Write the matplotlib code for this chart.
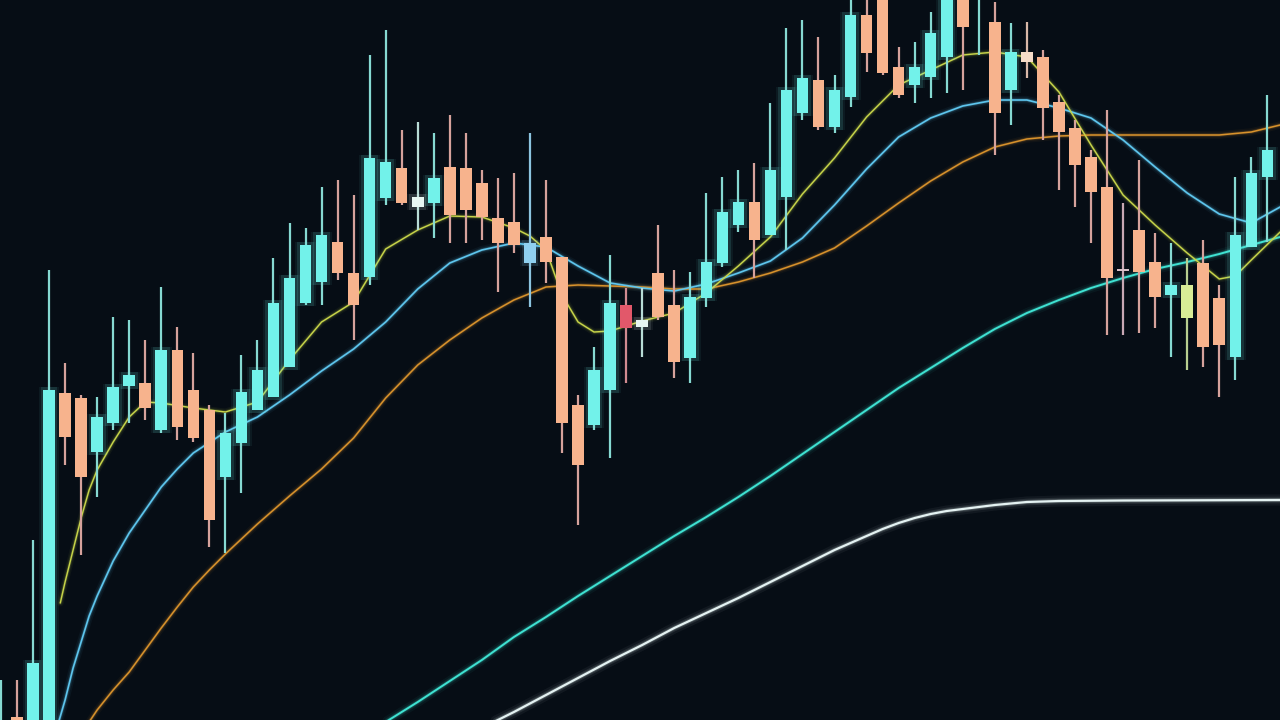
import matplotlib
matplotlib.use("Agg")
import matplotlib.pyplot as plt
import numpy as np

# ---- candle data (price units; index = trading session) ----
opens = [-20, 3, -10, -10, 327, 322, 268, 297, 334, 337, 290, 370, 330, 310, 243, 277, 310, 323, 353, 417,
         438, 478, 447, 443, 522, 552, 513, 517, 553, 552, 537, 502, 498, 457, 483, 463, 315, 295, 330, 415,
         393, 447, 415, 362, 422, 457, 495, 518, 485, 523, 607, 640, 593, 623, 705, 730, 653, 635, 643, 663,
         730, 725, 698, 630, 668, 663, 618, 592, 563, 533, 451, 490, 458, 425, 402, 457, 422, 363, 473, 543]
closes = [-5, -10, 57, 330, 283, 243, 303, 333, 345, 312, 370, 293, 282, 200, 287, 328, 350, 417, 442, 475,
          485, 447, 415, 562, 558, 517, 523, 542, 505, 510, 503, 477, 475, 477, 458, 297, 255, 350, 417, 392,
          400, 403, 358, 423, 458, 508, 518, 480, 550, 630, 642, 593, 630, 705, 667, 647, 625, 653, 687, 725,
          693, 745, 607, 668, 658, 612, 588, 555, 528, 442, 449, 448, 423, 435, 435, 373, 375, 485, 547, 570]
highs = [40, 40, 180, 450, 357, 325, 323, 403, 400, 380, 433, 393, 367, 315, 307, 365, 380, 462, 497, 492,
         533, 540, 525, 665, 690, 590, 598, 587, 605, 587, 550, 542, 547, 587, 540, 463, 325, 373, 465, 432,
         432, 495, 450, 448, 527, 543, 550, 557, 617, 692, 700, 683, 645, 725, 730, 740, 673, 678, 708, 740,
         740, 760, 718, 697, 698, 670, 625, 600, 570, 610, 517, 560, 487, 477, 462, 480, 435, 543, 563, 625]
lows = [-30, -20, -20, -20, 255, 165, 223, 290, 297, 300, 287, 280, 278, 173, 167, 227, 310, 323, 353, 415,
        415, 440, 380, 435, 515, 515, 490, 482, 477, 477, 480, 428, 467, 413, 437, 267, 195, 290, 262, 337,
        363, 400, 342, 337, 413, 453, 488, 442, 485, 470, 600, 590, 587, 613, 648, 645, 622, 617, 622, 627,
        630, 665, 565, 595, 642, 580, 530, 513, 477, 385, 385, 387, 392, 363, 350, 353, 323, 340, 473, 478]
kinds = ["up", "dn", "up", "up", "dn", "dn", "up", "up", "up", "dn", "up", "dn", "dn", "dn", "up", "up", "up", "up", "up", "up",
         "up", "dn", "dn", "up", "up", "dn", "white", "up", "dn", "dn", "dn", "dn", "dn", "blue", "dn", "dn", "dn", "up", "up", "red",
         "white", "dn", "dn", "up", "up", "up", "up", "dn", "up", "up", "up", "dn", "up", "up", "dn", "dn", "dn", "up", "up", "up",
         "dn", "up", "dn", "up", "pale", "dn", "dn", "dn", "dn", "dn", "doji", "dn", "dn", "up", "lime", "dn", "dn", "up", "up", "up"]

# ---- moving-average lines (x = session index, y = price) ----
fast_x = [3.7, 4, 4.5, 5, 5.5, 6, 7, 8, 9, 10, 12, 14, 16, 18, 20, 22, 24, 26, 28, 30, 32, 33, 34, 35, 36, 37, 38,
          40, 42, 44, 46, 48, 50, 52, 54, 56, 58, 60, 62, 64, 66, 68, 70, 72, 74, 76, 77, 78, 79.8]
fast_y = [117, 138, 170, 202, 230, 250, 278, 303, 318, 317, 312, 308, 318, 360, 398, 418, 471, 490, 504, 503, 492,
          484, 470, 425, 398, 388, 389, 399, 407, 427, 454, 483, 526, 562, 603, 635, 650, 665, 668, 663, 628, 575,
          525, 495, 467, 441, 444, 460, 488]
mid_x = [3.6, 4, 4.5, 5, 5.5, 6, 7, 8, 9, 10, 11, 12, 14, 16, 18, 20, 22, 24, 26, 28, 30, 32, 34, 36, 38, 40, 42,
         44, 46, 48, 50, 52, 54, 56, 58, 60, 62, 64, 66, 68, 70, 72, 74, 76, 78, 79.8]
mid_y = [-2, 20, 52, 78, 104, 124, 159, 187, 210, 233, 251, 267, 288, 303, 325, 349, 371, 398, 431, 457, 470, 477,
         473, 454, 437, 432, 429, 436, 447, 459, 482, 515, 551, 583, 602, 614, 620, 620, 612, 602, 580, 553, 527,
         506, 497, 513]
slow_x = [5.5, 6, 7, 8, 9, 10, 11, 12, 13, 14, 16, 18, 20, 22, 24, 26, 28, 30, 32, 34, 36, 38, 40, 42, 44, 46, 48,
          50, 52, 54, 56, 58, 60, 62, 64, 66, 68, 72, 76, 78, 79.8]
slow_y = [-2, 10, 30, 48, 70, 92, 113, 133, 150, 166, 196, 224, 251, 282, 322, 355, 380, 402, 420, 433, 435, 434,
          433, 431, 431, 438, 447, 458, 472, 494, 517, 539, 558, 573, 581, 584, 585, 585, 585, 588, 595]
long_x = [24, 26, 28, 30, 32, 34, 36, 38, 40, 42, 44, 46, 48, 50, 52, 54, 56, 58, 60, 62, 64, 66, 68, 70, 72, 74, 76,
          78, 79.8]
long_y = [-2, 18, 39, 60, 83, 103, 124, 144, 164, 184, 203, 223, 244, 266, 288, 310, 332, 352, 372, 391, 407, 420,
          432, 442, 451, 458, 466, 475, 483]
year_x = [30, 32, 34, 36, 38, 40, 42, 44, 46, 48, 50, 52, 53, 54, 55, 56, 57, 58, 59, 60, 62, 64, 66, 70, 79.8]
year_y = [-8, 8, 25, 42, 59, 75, 92, 107, 122, 138, 154, 170, 177, 184, 191, 197, 202, 206, 209, 211, 215, 218,
          219, 219.5, 220]

BG = "#060d15"
body_col = {"up": "#72f2ea", "dn": "#f7b38d", "red": "#e2586a", "white": "#e8f6f2",
            "blue": "#8fd0f0", "pale": "#f6dcc8", "doji": "#d9c0c8", "lime": "#d8ec96"}
wick_col = {"up": "#86d9d2", "dn": "#d6a29c", "red": "#d08a90", "white": "#b8dcd6",
            "blue": "#8cc4e0", "pale": "#d8b8a8", "doji": "#c8a8b4", "lime": "#b8cf90"}

fig = plt.figure(figsize=(12.8, 7.2), dpi=100, facecolor=BG)
ax = fig.add_axes([0, 0, 1, 1])
ax.set_facecolor(BG)
ax.set_xlim(-0.06, 79.79)
ax.set_ylim(0, 720)
ax.axis("off")

x = np.arange(len(opens))
o = np.array(opens, float)
c = np.array(closes, float)
h = np.array(highs, float)
l = np.array(lows, float)

# MA lines with soft glow
def glow_line(xs, ys, col, lw, z):
    for w, a in [(lw * 5, 0.05), (lw * 3, 0.10), (lw * 1.8, 0.2)]:
        ax.plot(xs, ys, color=col, lw=w, alpha=a, solid_capstyle="round",
                solid_joinstyle="round", zorder=z)
    ax.plot(xs, ys, color=col, lw=lw, solid_capstyle="round", solid_joinstyle="round", zorder=z + 0.1)

glow_line(year_x, year_y, "#e4f2f2", 1.6, 1)
glow_line(long_x, long_y, "#3fe2d2", 1.4, 1)
glow_line(slow_x, slow_y, "#d8922c", 1.1, 2)
glow_line(mid_x, mid_y, "#5ec6ee", 1.2, 2)
glow_line(fast_x, fast_y, "#c9d64a", 1.0, 2)

# candles
for k in body_col:
    m = np.array([kk == k for kk in kinds])
    if not m.any():
        continue
    xs = x[m]
    ax.vlines(xs, l[m], h[m], color=wick_col[k], lw=1.6, zorder=3)
    bottom = np.minimum(o[m], c[m])
    height = np.maximum(np.abs(c[m] - o[m]), 2)
    if k in ("up", "white", "blue"):
        for w, a in [(1.3, 0.06), (1.05, 0.12)]:
            ax.bar(xs, height + 6, bottom=bottom - 3, width=w, color=body_col[k], alpha=a,
                   linewidth=0, zorder=3.5)
    ax.bar(xs, height, bottom=bottom, width=0.72, color=body_col[k], linewidth=0, zorder=4)

fig.savefig("out.png", dpi=100, facecolor=BG)
